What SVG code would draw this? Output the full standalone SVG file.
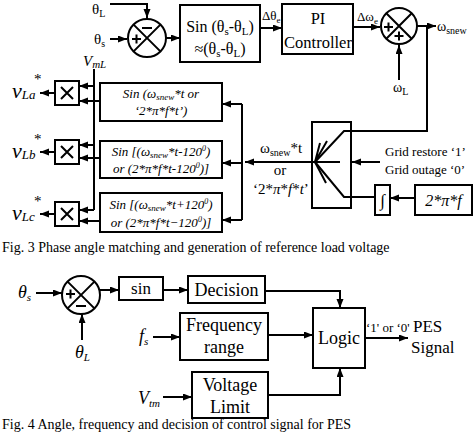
<svg xmlns="http://www.w3.org/2000/svg" width="474" height="440" viewBox="0 0 474 440">
<defs>
<marker id="ah" markerUnits="userSpaceOnUse" markerWidth="10" markerHeight="8" refX="9" refY="3.5" orient="auto">
<path d="M0,0 L9,3.5 L0,7 z" fill="#000"/>
</marker>
<style>
.b{fill:#fff;stroke:#000;stroke-width:2}
.s{fill:none;stroke:#000;stroke-width:2}
.l{fill:none;stroke:#000;stroke-width:2}
.a{fill:none;stroke:#000;stroke-width:2;marker-end:url(#ah)}
.t{font-family:"Liberation Serif","Times New Roman",serif;fill:#000}
.i{font-style:italic}
.c{text-anchor:middle}
</style>
</defs>
<rect width="474" height="440" fill="#fff"/>

<g id="connectors">
<path class="a" d="M110,4 H147 V18"/>
<path class="a" d="M110,39 H127"/>
<path class="a" d="M166,38 H180"/>
<path class="a" d="M260,28 H282"/>
<path class="a" d="M353,27 H380"/>
<path class="a" d="M399,80 V45"/>
<path class="a" d="M417,26 H436"/>
<path class="l" d="M427,26 V131 H344 L315,162"/>
<path class="l" d="M315,162 L344,197 H375"/>
<path class="a" d="M340,162 H245"/>
<path class="l" d="M242,104 V220"/>
<path class="a" d="M242,104 H222"/>
<path class="a" d="M242,163 H222"/>
<path class="a" d="M242,220 H222"/>
<path class="a" d="M380,162 H352"/>
<path class="a" d="M415,198 H390"/>
<path class="l" d="M94,69 V210"/>
<path class="a" d="M94,86 H79"/>
<path class="a" d="M94,145 H79"/>
<path class="a" d="M94,210 H79"/>
<path class="a" d="M100,101 H79"/>
<path class="a" d="M100,158 H79"/>
<path class="a" d="M100,221 H79"/>
<path class="a" d="M55,93 H40"/>
<path class="a" d="M55,152 H40"/>
<path class="a" d="M55,214 H40"/>

<path class="a" d="M36,293 H62"/>
<path class="a" d="M82,340 V314"/>
<path class="a" d="M100,290 H119"/>
<path class="a" d="M163,290 H188"/>
<path class="a" d="M265,291 H340 V308"/>
<path class="a" d="M153,337 H180"/>
<path class="a" d="M268,335 H313"/>
<path class="a" d="M163,397 H192"/>
<path class="a" d="M268,395 H340 V368"/>
<path class="a" d="M365,338 H408"/>
</g>

<g id="sum1">
<circle class="b" cx="147" cy="38" r="19"/>
<path class="l" d="M133.6,24.6 L160.4,51.4 M160.4,24.6 L133.6,51.4"/>
<path class="l" d="M142,28 H152"/>
<path class="l" d="M132,39 H141 M136.5,34.5 V43.5"/>
</g>
<g id="sin-box">
<rect class="b" x="180" y="5" width="80" height="57"/>
<text class="t c" x="220" y="32" font-size="16">Sin (θ<tspan font-size="11" dy="3">s</tspan><tspan dy="-3">-θ</tspan><tspan font-size="11" dy="3">L</tspan><tspan dy="-3">)</tspan></text>
<text class="t c" x="220" y="54" font-size="16">≈(θ<tspan font-size="11" dy="3">s</tspan><tspan dy="-3">-θ</tspan><tspan font-size="11" dy="3">L</tspan><tspan dy="-3">)</tspan></text>
</g>
<g id="pi">
<rect class="b" x="282" y="4" width="71" height="50"/>
<text class="t c" x="318" y="24" font-size="16.5">PI</text>
<text class="t c" x="318" y="48" font-size="16.5">Controller</text>
</g>
<g id="sum2">
<circle class="b" cx="399" cy="26" r="18"/>
<path class="l" d="M386.3,13.3 L411.7,38.7 M411.7,13.3 L386.3,38.7"/>
<path class="l" d="M384,27 H393 M388.5,22.5 V31.5"/>
<path class="l" d="M394.5,36 H403.5 M399,31.5 V40.5"/>
</g>
<g id="labels-top">
<text class="t" x="92" y="14" font-size="15">θ<tspan font-size="10" dy="3">L</tspan></text>
<text class="t" x="94" y="44" font-size="15">θ<tspan font-size="10" dy="3">s</tspan></text>
<text class="t" x="262" y="20" font-size="13">Δθ<tspan font-size="9" dy="3">e</tspan></text>
<text class="t" x="357" y="21" font-size="13">Δω<tspan font-size="9" dy="3">e</tspan></text>
<text class="t" x="437" y="31" font-size="14">ω<tspan font-size="10" dy="3">snew</tspan></text>
<text class="t" x="393" y="92" font-size="14">ω<tspan font-size="10" dy="3">L</tspan></text>
<text class="t i" x="83" y="66" font-size="15">V<tspan font-size="11" dy="2">mL</tspan></text>
</g>

<g id="switch">
<rect class="s" x="312" y="122" width="39" height="86"/>
<path class="l" d="M315,162 L327,141 M315,162 L320,143 M315,162 L326,183"/>
</g>
<g id="integrator">
<rect class="b" x="375" y="185" width="15" height="30"/>
<text class="t c" x="382.5" y="206" font-size="17">∫</text>
</g>
<g id="twopif">
<rect class="b" x="415" y="185" width="57" height="30"/>
<text class="t i c" x="443.5" y="206" font-size="16">2*π*f</text>
</g>
<g id="switch-labels">
<text class="t" x="385" y="156" font-size="13">Grid restore ‘1’</text>
<text class="t" x="385" y="174" font-size="13">Grid outage ‘0’</text>
<text class="t" x="260" y="153" font-size="15">ω<tspan font-size="10" dy="3">snew</tspan><tspan dy="-3">*t</tspan></text>
<text class="t c" x="280" y="175" font-size="15">or</text>
<text class="t" x="253" y="194" font-size="15">‘2*<tspan class="i">π</tspan>*<tspan class="i">f</tspan>*<tspan class="i">t</tspan>’</text>
</g>

<g id="sinA">
<rect class="b" x="100" y="83" width="122" height="38"/>
<text class="t i c" x="161" y="98" font-size="13">Sin (ω<tspan font-size="9" dy="2">snew</tspan><tspan dy="-2">*t or</tspan></text>
<text class="t i c" x="161" y="115" font-size="13">‘2*π*f*t’)</text>
</g>
<g id="sinB">
<rect class="b" x="100" y="141" width="122" height="37"/>
<text class="t i c" x="161" y="156" font-size="13">Sin [(ω<tspan font-size="9" dy="2">snew</tspan><tspan dy="-2">*t-120</tspan><tspan font-size="8" dy="-5">0</tspan><tspan dy="5">)</tspan></text>
<text class="t i c" x="161" y="173" font-size="13">or (2*π*f*t-120<tspan font-size="8" dy="-5">0</tspan><tspan dy="5">)]</tspan></text>
</g>
<g id="sinC">
<rect class="b" x="100" y="193" width="122" height="39"/>
<text class="t i c" x="161" y="209" font-size="13">Sin [(ω<tspan font-size="9" dy="2">snew</tspan><tspan dy="-2">*t+120</tspan><tspan font-size="8" dy="-5">0</tspan><tspan dy="5">)</tspan></text>
<text class="t i c" x="161" y="227" font-size="13">or (2*π*f*t−120<tspan font-size="8" dy="-5">0</tspan><tspan dy="5">)]</tspan></text>
</g>

<g id="mulA">
<rect class="b" x="55" y="81" width="24" height="24"/>
<path class="l" d="M61,87 L73,99 M73,87 L61,99"/>
</g>
<g id="mulB">
<rect class="b" x="55" y="140" width="24" height="24"/>
<path class="l" d="M61,146 L73,158 M73,146 L61,158"/>
</g>
<g id="mulC">
<rect class="b" x="55" y="202" width="24" height="24"/>
<path class="l" d="M61,208 L73,220 M73,208 L61,220"/>
</g>
<g id="out-labels">
<text class="t i" x="12" y="98" font-size="22">v<tspan font-size="13" dy="1">La</tspan></text>
<text class="t" x="34" y="84" font-size="15">*</text>
<text class="t i" x="12" y="158" font-size="22">v<tspan font-size="13" dy="1">Lb</tspan></text>
<text class="t" x="34" y="144" font-size="15">*</text>
<text class="t i" x="12" y="220" font-size="22">v<tspan font-size="13" dy="1">Lc</tspan></text>
<text class="t" x="34" y="206" font-size="15">*</text>
</g>
<text class="t" x="2" y="252" font-size="14">Fig. 3 Phase angle matching and generation of reference load voltage</text>

<g id="sum3">
<circle class="b" cx="81" cy="295" r="19"/>
<path class="l" d="M67.6,281.6 L94.4,308.4 M94.4,281.6 L67.6,308.4"/>
<path class="l" d="M66,294 H75 M70.5,289.5 V298.5"/>
<path class="l" d="M76,306 H86"/>
</g>
<g id="sin2">
<rect class="b" x="119" y="277" width="44" height="23"/>
<text class="t c" x="141" y="294" font-size="17">sin</text>
</g>
<g id="decision">
<rect class="b" x="188" y="276" width="77" height="27"/>
<text class="t c" x="226.5" y="296" font-size="18">Decision</text>
</g>
<g id="freq">
<rect class="b" x="180" y="313" width="88" height="47"/>
<text class="t c" x="224" y="331" font-size="18">Frequency</text>
<text class="t c" x="224" y="353" font-size="18">range</text>
</g>
<g id="vlimit">
<rect class="b" x="192" y="372" width="76" height="46"/>
<text class="t c" x="230" y="391" font-size="18">Voltage</text>
<text class="t c" x="230" y="413" font-size="18">Limit</text>
</g>
<g id="logic">
<rect class="b" x="313" y="308" width="52" height="60"/>
<text class="t c" x="339" y="344" font-size="18">Logic</text>
</g>
<g id="labels-bottom">
<text class="t i" x="18" y="298" font-size="18">θ<tspan font-size="11" dy="3">s</tspan></text>
<text class="t i" x="75" y="358" font-size="18">θ<tspan font-size="11" dy="3">L</tspan></text>
<text class="t i" x="139" y="342" font-size="18">f<tspan font-size="11" dy="3">s</tspan></text>
<text class="t i" x="138" y="404" font-size="18">V<tspan font-size="11" dy="3">tm</tspan></text>
<text class="t" x="366" y="332" font-size="13">‘1' or ‘0' <tspan font-size="17">PES</tspan></text>
<text class="t" x="411" y="353" font-size="17">Signal</text>
</g>
<text class="t" x="2" y="429" font-size="14">Fig. 4 Angle, frequency and decision of control signal for PES</text>
</svg>
